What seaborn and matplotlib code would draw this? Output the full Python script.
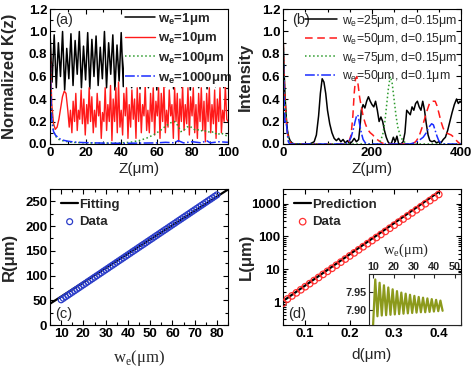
import numpy as np
import pandas as pd
import matplotlib
matplotlib.use("Agg")
import matplotlib.pyplot as plt
from matplotlib.ticker import MultipleLocator, FixedLocator, FixedFormatter, NullFormatter, LogLocator
import seaborn as sns

# ---------------- data ----------------
# (a) normalized K(z)
a_black_k = [1.0, 0.55, 0.97, 0.5, 0.9, 0.6, 1.0, 0.48, 0.85, 0.58, 0.98, 0.52, 0.92, 0.62, 1.0, 0.5,
             0.87, 0.57, 0.99, 0.49, 0.93, 0.6, 0.96, 0.52, 0.86, 0.58, 1.0, 0.5, 0.9, 0.62, 0.97, 0.48,
             0.88, 0.56, 0.99, 0.51, 0.92, 0.6, 0.95, 0.5, 0.87, 0.55, 0.98, 0.49, 0.9, 0.58, 1.0, 0.5,
             0.86, 0.6, 0.97, 0.48, 0.91, 0.56, 0.99, 0.51, 0.88, 0.6, 0.96, 0.49, 0.9, 0.55, 1.0, 0.5,
             0.87, 0.58, 0.97, 0.48, 0.92, 0.6, 0.98, 0.5, 0.86, 0.56, 0.99, 0.49, 0.9, 0.59, 0.96, 0.51,
             0.88, 0.55, 1.0, 0.5, 0.85, 0.72]
a_red_pts = [(0, 1.0), (0.5, 0.6), (1, 0.35), (2, 0.18), (3, 0.13), (4, 0.15), (5, 0.22), (6, 0.32),
             (7, 0.42), (8, 0.47), (9, 0.45), (10, 0.3), (10.8, 0.15), (11.5, 0.3), (12.3, 0.1), (13, 0.38),
             (13.8, 0.2), (14.5, 0.45), (15.3, 0.12), (16, 0.3), (16.7, 0.22), (17.5, 0.48), (18.2, 0.18),
             (19, 0.4), (19.8, 0.08), (20.6, 0.35), (21.3, 0.18), (22, 0.5), (22.8, 0.2), (23.5, 0.42),
             (24.3, 0.1), (25, 0.3), (25.8, 0.15), (26.5, 0.45), (27.3, 0.25), (28, 0.38), (28.8, 0.05),
             (29.5, 0.28), (30.3, 0.2), (31, 0.5), (31.8, 0.12), (32.5, 0.35), (33.3, 0.2), (34, 0.52),
             (34.8, 0.03), (35.5, 0.4), (36.3, 0.2), (37, 0.5), (37.8, 0.1), (38.5, 0.55), (39.3, 0.15),
             (40, 0.3), (40.8, 0.08), (41.5, 0.45), (42.3, 0.25), (43, 0.5), (43.8, 0.05), (44.5, 0.35),
             (45.3, 0.15), (46, 0.48), (46.8, 0.22), (47.5, 0.4), (48.3, 0.05), (49, 0.5), (49.8, 0.2),
             (50.5, 0.45), (51.3, 0.1), (52, 0.35), (52.8, 0.25), (53.5, 0.52), (54.3, 0.12), (55, 0.3),
             (55.8, 0.1), (56.5, 0.45), (57.3, 0.2), (58, 0.5), (58.8, 0.08), (59.5, 0.38), (60.3, 0.25),
             (61, 0.5), (61.8, 0.05), (62.5, 0.45), (63.3, 0.2), (64, 0.52), (64.8, 0.1), (65.5, 0.3),
             (66.3, 0.15), (67, 0.48), (67.8, 0.25), (68.5, 0.35), (69.3, 0.05), (70, 0.5), (70.8, 0.2),
             (71.5, 0.45), (72.3, 0.02), (73, 0.4), (73.8, 0.2), (74.5, 0.52), (75.3, 0.12), (76, 0.35),
             (76.8, 0.18), (77.5, 0.5), (78.3, 0.08), (79, 0.42), (79.8, 0.25), (80.5, 0.5), (81.3, 0.1),
             (82, 0.35), (82.8, 0.05), (83.5, 0.45), (84.3, 0.2), (85, 0.5), (85.8, 0.12), (86.5, 0.38),
             (87.3, 0.02), (88, 0.45), (88.8, 0.2), (89.5, 0.5), (90.3, 0.1), (91, 0.35), (91.8, 0.18),
             (92.5, 0.48), (93.3, 0.05), (94, 0.4), (94.8, 0.2), (95.5, 0.5), (96.3, 0.1), (97, 0.3),
             (97.8, 0.2), (98.5, 0.52), (99.3, 0.22), (100, 0.2)]
a_green_pts = [(0, 1.0), (0.5, 0.5), (1, 0.28), (2, 0.12), (3, 0.07), (5, 0.04), (8, 0.025), (12, 0.015),
               (20, 0.01), (30, 0.008), (40, 0.01), (45, 0.015), (50, 0.03), (54, 0.05), (58, 0.08),
               (62, 0.12), (65, 0.16), (68, 0.19), (70, 0.2), (72, 0.16), (73.5, 0.11), (75, 0.12),
               (77, 0.15), (78.5, 0.16), (80, 0.14), (82, 0.12), (84, 0.13), (86, 0.11), (88, 0.12),
               (90, 0.1), (92, 0.11), (94, 0.08), (96, 0.1), (98, 0.08), (100, 0.07)]
a_blue_pts = [(0, 1.0), (0.3, 0.6), (0.6, 0.35), (1, 0.22), (1.5, 0.15), (2, 0.11), (3, 0.08), (4, 0.065),
              (5, 0.05), (7, 0.035), (10, 0.025), (15, 0.015), (20, 0.012), (30, 0.008), (40, 0.006),
              (50, 0.008), (60, 0.01), (65, 0.015), (70, 0.01), (72, 0.03), (75, 0.01), (80, 0.02),
              (85, 0.01), (88, 0.03), (90, 0.01), (95, 0.02), (100, 0.015)]
a_labels = [r"w$_\mathbf{e}$=1μm", r"w$_\mathbf{e}$=10μm", r"w$_\mathbf{e}$=100μm", r"w$_\mathbf{e}$=1000μm"]

# (b) intensity
b_black_pts = [(0, 1.0), (2, 0.7), (4, 0.48), (6, 0.32), (8, 0.2), (10, 0.12), (13, 0.06), (16, 0.03),
               (20, 0.01), (25, 0.0), (40, 0.0), (60, 0.0), (70, 0.02), (75, 0.08), (80, 0.25), (84, 0.45),
               (88, 0.58), (92, 0.55), (96, 0.45), (100, 0.3), (105, 0.18), (110, 0.1), (115, 0.05),
               (120, 0.03), (125, 0.05), (130, 0.02), (135, 0.04), (140, 0.01), (145, 0.03), (150, 0.0),
               (155, 0.02), (160, 0.05), (165, 0.02), (170, 0.04), (173, 0.15), (176, 0.3), (180, 0.35),
               (184, 0.32), (188, 0.38), (192, 0.42), (196, 0.38), (200, 0.35), (204, 0.33), (208, 0.38),
               (212, 0.3), (216, 0.2), (220, 0.24), (224, 0.2), (228, 0.12), (232, 0.06), (236, 0.02),
               (240, 0.0), (244, 0.01), (248, 0.06), (252, 0.02), (256, 0.07), (260, 0.0), (265, 0.0),
               (270, 0.02), (274, 0.1), (278, 0.3), (282, 0.28), (286, 0.26), (290, 0.33), (294, 0.3),
               (298, 0.36), (302, 0.38), (306, 0.33), (310, 0.3), (314, 0.38), (318, 0.3), (322, 0.18),
               (326, 0.08), (330, 0.03), (335, 0.02), (340, 0.03), (345, 0.01), (350, 0.02), (355, 0.01),
               (360, 0.04), (365, 0.06), (370, 0.12), (375, 0.2), (380, 0.28), (385, 0.35), (390, 0.4),
               (394, 0.36), (398, 0.38), (400, 0.37)]
b_red_pts = [(0, 1.0), (2, 0.68), (4, 0.45), (6, 0.3), (8, 0.18), (10, 0.1), (13, 0.04), (17, 0.01), (22, 0),
             (140, 0), (148, 0.02), (153, 0.08), (157, 0.25), (160, 0.45), (163, 0.58), (166, 0.6),
             (169, 0.52), (172, 0.42), (176, 0.33), (180, 0.25), (185, 0.18), (190, 0.13), (196, 0.1),
             (202, 0.08), (208, 0.05), (215, 0.03), (222, 0.01), (230, 0), (290, 0), (298, 0.02),
             (305, 0.06), (312, 0.14), (318, 0.22), (324, 0.3), (330, 0.37), (336, 0.38), (342, 0.38),
             (346, 0.34), (350, 0.28), (355, 0.2), (360, 0.14), (366, 0.1), (372, 0.09), (378, 0.08),
             (384, 0.06), (390, 0.03), (395, 0.01), (400, 0)]
b_green_pts = [(0, 1.0), (2, 0.66), (4, 0.44), (6, 0.28), (8, 0.17), (10, 0.1), (13, 0.04), (17, 0.01),
               (22, 0), (212, 0), (218, 0.02), (224, 0.08), (229, 0.2), (233, 0.35), (237, 0.5), (241, 0.6),
               (245, 0.55), (248, 0.45), (251, 0.35), (254, 0.25), (258, 0.15), (263, 0.08), (268, 0.04),
               (275, 0.01), (282, 0), (400, 0)]
b_blue_pts = [(0, 1.0), (1.5, 0.6), (3, 0.3), (4.5, 0.18), (6, 0.2), (8, 0.17), (10, 0.08), (12, 0.02),
              (15, 0), (140, 0), (148, 0.02), (153, 0.06), (158, 0.13), (162, 0.2), (166, 0.26), (169, 0.25),
              (172, 0.18), (176, 0.1), (180, 0.04), (185, 0.01), (190, 0), (285, 0), (295, 0.01),
              (305, 0.03), (315, 0.06), (322, 0.1), (328, 0.15), (334, 0.18), (338, 0.17), (342, 0.12),
              (346, 0.07), (350, 0.03), (355, 0.01), (362, 0), (400, 0)]
b_labels = [r"w$_\mathsf{e}$=25μm, d=0.15μm", r"w$_\mathsf{e}$=50μm, d=0.15μm",
            r"w$_\mathsf{e}$=75μm, d=0.15μm", r"w$_\mathsf{e}$=50μm, d=0.1μm"]

# (c) R vs w_e
c_we = list(range(10, 81))
c_R = [51.0, 54.0, 57.1, 60.1, 63.1, 66.2, 69.2, 72.2, 75.2, 78.3, 81.3, 84.3, 87.4, 90.4, 93.4, 96.5,
       99.5, 102.5, 105.5, 108.6, 111.6, 114.6, 117.7, 120.7, 123.7, 126.8, 129.8, 132.8, 135.8, 138.9,
       141.9, 144.9, 148.0, 151.0, 154.0, 157.1, 160.1, 163.1, 166.1, 169.2, 172.2, 175.2, 178.3, 181.3,
       184.3, 187.4, 190.4, 193.4, 196.4, 199.5, 202.5, 205.5, 208.6, 211.6, 214.6, 217.7, 220.7, 223.7,
       226.7, 229.8, 232.8, 235.8, 238.9, 241.9, 244.9, 248.0, 251.0, 254.0, 257.0, 260.1, 263.1]
c_fit_we = [5, 85]
c_fit_R = [43, 274]

# (d) L vs d
d_d = [0.05, 0.06, 0.07, 0.08, 0.09, 0.10, 0.11, 0.12, 0.13, 0.14, 0.15, 0.16, 0.17, 0.18, 0.19, 0.20,
       0.21, 0.22, 0.23, 0.24, 0.25, 0.26, 0.27, 0.28, 0.29, 0.30, 0.31, 0.32, 0.33, 0.34, 0.35, 0.36,
       0.37, 0.38, 0.39, 0.40]
d_L = [0.93, 1.24, 1.54, 1.91, 2.37, 2.94, 3.65, 4.53, 5.62, 6.98, 8.66, 10.7, 13.3, 16.5, 20.5, 25.5,
       31.6, 39.2, 48.7, 60.4, 75.0, 93.0, 115, 143, 178, 221, 274, 340, 422, 524, 650, 807, 1000, 1240,
       1540, 1910]
d_pred_d = [0.05, 0.40]
d_pred_L = [1.07, 2300]
inset_val = [7.86, 7.985, 7.884, 7.976, 7.886, 7.969, 7.887, 7.963, 7.888, 7.958, 7.889, 7.953, 7.890,
             7.949, 7.891, 7.946, 7.892, 7.943, 7.893, 7.940, 7.894, 7.937, 7.895, 7.935, 7.895, 7.933,
             7.896, 7.931, 7.897, 7.929, 7.898, 7.927, 7.899]
inset_we_range = (10, 44)

# ---------------- style ----------------
sns.set_theme(style="ticks")
plt.rcParams["font.family"] = ["Liberation Sans", "DejaVu Sans"]
plt.rcParams["mathtext.fontset"] = "custom"
plt.rcParams["mathtext.rm"] = "Liberation Serif"
plt.rcParams["mathtext.bf"] = "Liberation Sans:bold"
plt.rcParams["mathtext.sf"] = "Liberation Sans"
plt.rcParams["axes.linewidth"] = 0.8

BLACK, RED, GREEN, BLUE = "#000000", "#ff1a1a", "#2a9a2a", "#1a2cff"
OLIVE = "#8c9a1c"
TICK = 9.5

W, H = 474, 372
fig = plt.figure(figsize=(W / 100, H / 100), dpi=100)

def rect(l, r, t, b):
    return [l / W, 1 - b / H, (r - l) / W, (b - t) / H]

axA = fig.add_axes(rect(50, 228, 9, 144))
axB = fig.add_axes(rect(283, 461, 9, 144))
axC = fig.add_axes(rect(50, 228, 189, 325))
axD = fig.add_axes(rect(283, 461, 189, 325))

def style(ax):
    ax.tick_params(which="both", direction="in", top=True, right=True, width=0.8, colors="black")
    ax.tick_params(which="major", length=3.5, labelsize=TICK, pad=2)
    ax.tick_params(which="minor", length=2)
    for lab in ax.get_xticklabels() + ax.get_yticklabels():
        lab.set_fontweight("bold")
    for s in ax.spines.values():
        s.set_color("black")

def line(ax, pts, **kw):
    df = pd.DataFrame(pts, columns=["z", "v"])
    sns.lineplot(data=df, x="z", y="v", ax=ax, sort=False, estimator=None, **kw)

# ---- (a)
a_z = np.linspace(0, 100, len(a_black_k))
line(axA, list(zip(a_z, a_black_k)), color=BLACK, lw=1.1, label=a_labels[0])
line(axA, a_red_pts, color=RED, lw=1.0, label=a_labels[1])
line(axA, a_green_pts, color=GREEN, lw=1.1, linestyle=":", label=a_labels[2])
line(axA, a_blue_pts, color=BLUE, lw=1.1, linestyle="-.", label=a_labels[3])
axA.set_xlim(0, 100); axA.set_ylim(0, 1.2)
axA.xaxis.set_major_locator(MultipleLocator(20)); axA.xaxis.set_minor_locator(MultipleLocator(10))
axA.yaxis.set_major_locator(MultipleLocator(0.2)); axA.yaxis.set_minor_locator(MultipleLocator(0.1))
axA.set_xlabel("Z(μm)", fontsize=11)
axA.set_ylabel("Normalized K(z)", fontsize=12, fontweight="bold")
axA.xaxis.set_label_coords(0.5, -0.13); axA.yaxis.set_label_coords(-0.185, 0.5)
legA = axA.legend(loc="upper right", bbox_to_anchor=(1.035, 1.0), prop={"weight": "bold", "size": 9.5},
                  frameon=True, framealpha=1, facecolor="white", edgecolor="none", fancybox=False,
                  handlelength=2.2, handletextpad=0.3, labelspacing=0.28, borderpad=0.12, borderaxespad=0.0)
legA.set_zorder(2.3)
axA.text(0.03, 0.97, "(a)", transform=axA.transAxes, ha="left", va="top", fontsize=10.5)
style(axA)

# ---- (b)
line(axB, b_black_pts, color=BLACK, lw=1.1, label=b_labels[0])
line(axB, b_red_pts, color=RED, lw=1.1, linestyle=(0, (5, 3)), label=b_labels[1])
line(axB, b_green_pts, color=GREEN, lw=1.1, linestyle=":", label=b_labels[2])
line(axB, b_blue_pts, color=BLUE, lw=1.1, linestyle="-.", label=b_labels[3])
axB.set_xlim(0, 400); axB.set_ylim(0, 1.2)
axB.xaxis.set_major_locator(MultipleLocator(200)); axB.xaxis.set_minor_locator(MultipleLocator(50))
axB.yaxis.set_major_locator(MultipleLocator(0.2)); axB.yaxis.set_minor_locator(MultipleLocator(0.1))
axB.set_xlabel("Z(μm)", fontsize=11)
axB.set_ylabel("Intensity", fontsize=12, fontweight="bold")
axB.xaxis.set_label_coords(0.5, -0.13); axB.yaxis.set_label_coords(-0.17, 0.5)
axB.legend(loc="upper right", bbox_to_anchor=(1.0, 1.0), prop={"size": 8.8}, frameon=False,
           handlelength=2.6, handletextpad=0.4, labelspacing=0.2, borderpad=0.2, borderaxespad=0.1)
axB.text(0.05, 0.97, "(b)", transform=axB.transAxes, ha="left", va="top", fontsize=10.5)
style(axB)

# ---- (c)
sns.lineplot(x=c_fit_we, y=c_fit_R, ax=axC, color=BLACK, lw=1.6, label="Fitting", estimator=None)
sns.scatterplot(x=c_we, y=c_R, ax=axC, marker="o", s=18, facecolor="none", edgecolor="#2a3cc8",
                linewidth=0.9, label="Data", color="#2a3cc8", zorder=3)
axC.set_xlim(5, 85); axC.set_ylim(0, 275)
axC.xaxis.set_major_locator(MultipleLocator(10)); axC.xaxis.set_minor_locator(MultipleLocator(5))
axC.yaxis.set_major_locator(MultipleLocator(50)); axC.yaxis.set_minor_locator(MultipleLocator(25))
axC.set_xlabel(r"w$_\mathrm{e}$(μm)", fontsize=12, family="Liberation Serif")
axC.set_ylabel("R(μm)", fontsize=12, fontweight="bold")
axC.xaxis.set_label_coords(0.5, -0.17); axC.yaxis.set_label_coords(-0.185, 0.5)
axC.legend(loc="upper left", bbox_to_anchor=(0.04, 0.96), prop={"weight": "bold", "size": 9.5}, frameon=False,
           handlelength=1.3, handletextpad=0.1, labelspacing=0.4, borderpad=0.2, borderaxespad=0.1)
axC.text(0.03, 0.03, "(c)", transform=axC.transAxes, ha="left", va="bottom", fontsize=10.5)
style(axC)

# ---- (d)
sns.lineplot(x=d_pred_d, y=d_pred_L, ax=axD, color=BLACK, lw=1.6, label="Prediction", estimator=None)
sns.scatterplot(x=d_d, y=d_L, ax=axD, marker="o", s=22, facecolor="none", edgecolor="#ff3030",
                linewidth=0.9, label="Data", color="#ff3030", zorder=3)
axD.set_yscale("log")
axD.set_xlim(0.05, 0.45); axD.set_ylim(0.2, 2800)
axD.xaxis.set_major_locator(MultipleLocator(0.1)); axD.xaxis.set_minor_locator(MultipleLocator(0.05))
axD.yaxis.set_major_locator(FixedLocator([1, 10, 100, 1000]))
axD.yaxis.set_major_formatter(FixedFormatter(["1", "10", "100", "1000"]))
axD.yaxis.set_minor_locator(LogLocator(base=10, subs=np.arange(2, 10)))
axD.yaxis.set_minor_formatter(NullFormatter())
axD.set_xlabel("d(μm)", fontsize=11)
axD.set_ylabel("L(μm)", fontsize=12, fontweight="bold")
axD.xaxis.set_label_coords(0.5, -0.17); axD.yaxis.set_label_coords(-0.165, 0.5)
axD.legend(loc="upper left", bbox_to_anchor=(0.04, 0.96), prop={"weight": "bold", "size": 9.5}, frameon=False,
           handlelength=1.3, handletextpad=0.1, labelspacing=0.4, borderpad=0.2, borderaxespad=0.1)
axD.text(0.03, 0.03, "(d)", transform=axD.transAxes, ha="left", va="bottom", fontsize=10.5)
style(axD)

# inset
axI = fig.add_axes(rect(369, 461, 274, 325))
inset_we = np.linspace(inset_we_range[0], inset_we_range[1], len(inset_val))
sns.lineplot(x=inset_we, y=inset_val, ax=axI, color=OLIVE, lw=1.6, estimator=None, sort=False)
axI.set_xlim(8, 53); axI.set_ylim(7.86, 8.0)
axI.xaxis.set_major_locator(MultipleLocator(10))
axI.yaxis.set_major_locator(FixedLocator([7.90, 7.95]))
axI.yaxis.set_major_formatter(FixedFormatter(["7.90", "7.95"]))
axI.xaxis.tick_top(); axI.xaxis.set_label_position("top")
axI.tick_params(direction="in", length=3, labelsize=7.8, pad=1.5, width=0.8)
for lab in axI.get_xticklabels() + axI.get_yticklabels():
    lab.set_fontweight("bold")
axI.set_xlabel(r"w$_\mathrm{e}$(μm)", fontsize=10.5, family="Liberation Serif", labelpad=2)
axI.xaxis.set_label_coords(0.4, 1.3)
axI.xaxis.label.set_va("bottom")
axI.set_ylabel("")

fig.savefig("out.png", dpi=100)
